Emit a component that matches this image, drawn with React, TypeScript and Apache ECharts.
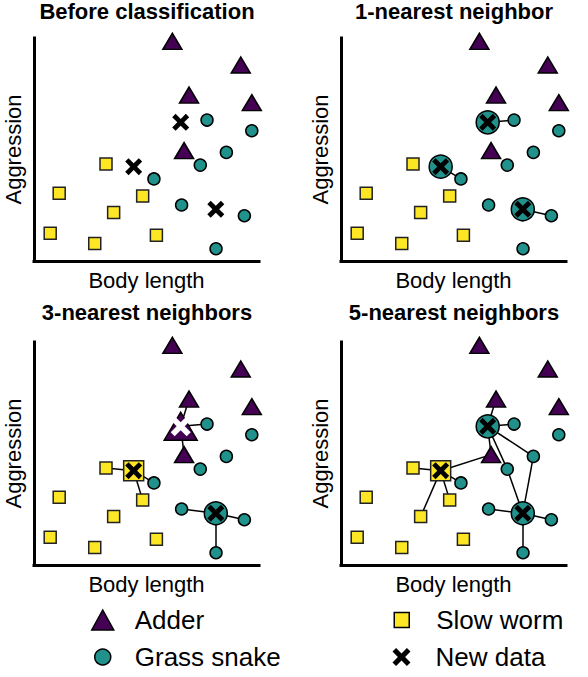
import React, { useEffect, useRef } from "react";
import * as echarts from "echarts";

// ---- Data (axis units 0..100, no ticks shown) ----
const adderX = [61.5, 91.9, 68.9, 96.8, 66.7];
const adderY = [98.5, 87.9, 74.4, 71.0, 49.5];

const grassX = [76.9, 96.8, 85.5, 73.9, 53.3, 65.6, 93.5, 80.9];
const grassY = [63.2, 58.4, 48.7, 43.0, 36.8, 25.1, 20.3, 5.5];

const slowX = [32.0, 11.2, 48.3, 35.4, 7.2, 27.0, 54.4];
const slowY = [43.5, 30.4, 29.1, 21.7, 12.4, 7.9, 11.5];

const newX = [65.2, 44.3, 80.8];
const newY = [62.2, 42.3, 23.2];

const panelTitles = [
  "Before classification",
  "1-nearest neighbor",
  "3-nearest neighbors",
  "5-nearest neighbors",
];
const xAxisName = "Body length";
const yAxisName = "Aggression";
const legendNames = ["Adder", "Grass snake", "Slow worm", "New data"];

// neighbours of each new point: [class, index into that class's arrays]
const knn1 = [[["grass", 0]], [["grass", 4]], [["grass", 6]]];
const knn3 = [
  [["adder", 2], ["adder", 4], ["grass", 0]],
  [["slow", 0], ["slow", 2], ["grass", 4]],
  [["grass", 5], ["grass", 6], ["grass", 7]],
];
const knn5 = [
  [["adder", 2], ["adder", 4], ["grass", 0], ["grass", 3], ["grass", 2]],
  [["slow", 0], ["slow", 2], ["slow", 3], ["grass", 4], ["adder", 4]],
  [["grass", 5], ["grass", 6], ["grass", 7], ["grass", 2], ["grass", 3]],
];
const class1 = ["grass", "grass", "grass"];
const class3 = ["adder", "slow", "grass"];
const class5 = ["grass", "slow", "grass"];

// ---- Styles ----
const FONT = "'Liberation Sans', Arial, Helvetica, sans-serif";
const C_ADDER = "#440154";
const C_GRASS = "#21918c";
const C_SLOW = "#fde725";
const X_PATH = "path://M2,0L5,3L8,0L10,2L7,5L10,8L8,10L5,7L2,10L0,8L3,5L0,2Z";

const CLS: Record<string, any> = {
  adder: { xs: adderX, ys: adderY, symbol: "triangle", size: [19, 16], big: [33, 28], color: C_ADDER, border: "#000", name: "Adder" },
  grass: { xs: grassX, ys: grassY, symbol: "circle", size: 12, big: 23, color: C_GRASS, border: "#000", name: "Grass snake" },
  slow: { xs: slowX, ys: slowY, symbol: "rect", size: 12, big: 20, color: C_SLOW, border: "#222", name: "Slow worm" },
};

const GRIDS = [
  { left: 34, top: 38 },
  { left: 341, top: 38 },
  { left: 34, top: 342 },
  { left: 341, top: 342 },
];
const GW = 225;
const GH = 223;

function buildOption() {
  const grid = GRIDS.map((g) => ({ left: g.left, top: g.top, width: GW, height: GH }));
  const xAxis = GRIDS.map((_, i) => ({
    type: "value",
    gridIndex: i,
    min: 0,
    max: 100,
    axisLine: { show: true, onZero: false, lineStyle: { color: "#000", width: 3, cap: "square" } },
    axisTick: { show: false },
    axisLabel: { show: false },
    splitLine: { show: false },
    name: xAxisName,
    nameLocation: "middle",
    nameGap: 8,
    nameTextStyle: { fontSize: 22, color: "#000", fontFamily: FONT },
  }));
  const yAxis = GRIDS.map((_, i) => ({
    type: "value",
    gridIndex: i,
    min: 0,
    max: 100,
    axisLine: { show: true, onZero: false, lineStyle: { color: "#000", width: 3, cap: "square" } },
    axisTick: { show: false },
    axisLabel: { show: false },
    splitLine: { show: false },
    name: yAxisName,
    nameLocation: "middle",
    nameGap: 10,
    nameTextStyle: { fontSize: 22, color: "#000", fontFamily: FONT },
  }));

  const series: any[] = [];
  const knns = [null, knn1, knn3, knn5];
  const classes = [null, class1, class3, class5];

  GRIDS.forEach((_, g) => {
    const knn = knns[g];
    const cls = classes[g];
    if (knn) {
      const segs: any[] = [];
      knn.forEach((nbrs: any[], i: number) => {
        nbrs.forEach(([c, idx]: [string, number]) => {
          segs.push({ coords: [[newX[i], newY[i]], [CLS[c].xs[idx], CLS[c].ys[idx]]] });
        });
      });
      series.push({
        type: "lines",
        name: "neighbor links " + g,
        coordinateSystem: "cartesian2d",
        xAxisIndex: g,
        yAxisIndex: g,
        polyline: false,
        silent: true,
        z: 1,
        lineStyle: { color: "#000", width: 1.5, opacity: 1, curveness: 0 },
        data: segs,
      });
    }
    ["adder", "grass", "slow"].forEach((c) => {
      const k = CLS[c];
      series.push({
        type: "scatter",
        name: k.name,
        xAxisIndex: g,
        yAxisIndex: g,
        symbol: k.symbol,
        symbolSize: k.size,
        clip: false,
        z: 2,
        itemStyle: { color: k.color, borderColor: k.border, borderWidth: 1.5, opacity: 1 },
        emphasis: { disabled: true },
        data: k.xs.map((x: number, i: number) => [x, k.ys[i]]),
      });
    });
    if (cls) {
      ["adder", "grass", "slow"].forEach((c) => {
        const k = CLS[c];
        const pts: any[] = [];
        cls.forEach((cc: string, i: number) => {
          if (cc === c) pts.push([newX[i], newY[i]]);
        });
        if (!pts.length) return;
        series.push({
          type: "scatter",
          name: "Classified " + k.name + " " + g,
          xAxisIndex: g,
          yAxisIndex: g,
          symbol: k.symbol,
          symbolSize: k.big,
          clip: false,
          z: 3,
          itemStyle: { color: k.color, borderColor: k.border, borderWidth: 1.5, opacity: 1 },
          emphasis: { disabled: true },
          data: pts,
        });
      });
    }
    series.push({
      type: "scatter",
      name: g === 0 ? "New data" : "New data " + g,
      xAxisIndex: g,
      yAxisIndex: g,
      symbol: X_PATH,
      symbolSize: 17,
      clip: false,
      z: 4,
      itemStyle: { color: "#000", borderWidth: 0, opacity: 1 },
      emphasis: { disabled: true },
      data: newX.map((x, i) => {
        const white = cls && cls[i] === "adder";
        return white
          ? { value: [x, newY[i]], symbolSize: 20, itemStyle: { color: "#fff" } }
          : { value: [x, newY[i]] };
      }),
    });
  });

  const legendSpec = [
    { name: legendNames[0], left: 91, top: 607, w: 22, h: 20, pad: 16, bw: 1.5 },
    { name: legendNames[1], left: 94, top: 644, w: 16, h: 16, pad: 19, bw: 1.5 },
    { name: legendNames[2], left: 393.5, top: 607, w: 15, h: 15, pad: 22, bw: 1.5 },
    { name: legendNames[3], left: 392.5, top: 644, w: 18, h: 18, pad: 20, bw: 0 },
  ];
  const legend = legendSpec.map((l) => ({
    data: [l.name],
    left: l.left,
    top: l.top,
    padding: 0,
    itemWidth: l.w,
    itemHeight: l.h,
    selectedMode: false,
    itemStyle: { borderColor: "#000", borderWidth: l.bw },
    textStyle: { fontSize: 26, color: "#000", fontFamily: FONT, padding: [0, 0, 0, l.pad] },
  }));

  const centers = [147, 454, 147, 454];
  const titleY = [11, 11, 312.5, 312.5];
  const graphic = panelTitles.map((t, i) => ({
    type: "text",
    x: centers[i],
    y: titleY[i],
    silent: true,
    style: {
      text: t,
      align: "center",
      verticalAlign: "middle",
      font: "bold 22px " + FONT,
      fill: "#000",
    },
  }));

  return {
    animation: false,
    backgroundColor: "#fff",
    textStyle: { fontFamily: FONT },
    grid,
    xAxis,
    yAxis,
    legend,
    graphic,
    series,
  };
}

export default function App() {
  const ref = useRef<HTMLDivElement>(null);
  useEffect(() => {
    if (!ref.current) return;
    const chart = echarts.init(ref.current, undefined, { renderer: "svg" });
    chart.setOption(buildOption() as any);
    return () => chart.dispose();
  }, []);
  return (
    <div
      ref={ref}
      style={{ position: "absolute", left: 0, top: 0, width: 588, height: 677 }}
    />
  );
}
